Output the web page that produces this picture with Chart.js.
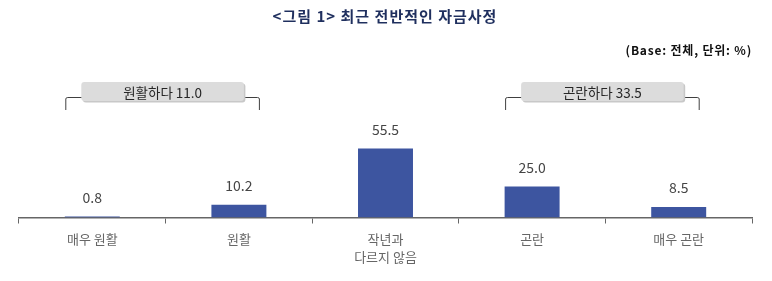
<!DOCTYPE html>
<html>
<head>
<meta charset="utf-8">
<script src="https://cdn.jsdelivr.net/npm/chart.js@4"></script>
<style>
    html, body { margin: 0; padding: 0; background: #fff; }
    #wrap { width: 772px; height: 281px; position: relative; }
</style>
</head>
<body>
<div id="wrap"><canvas id="fundChart"></canvas></div>
<script>
// chart data
const categories = [['매우 원활'], ['원활'], ['작년과', '다르지 않음'], ['곤란'], ['매우 곤란']];
const values = [0.8, 10.2, 55.5, 25.0, 8.5];
const groupLabels = ['원활하다 11.0', '곤란하다 33.5'];
const groupFrom = [0, 3];
const groupTo = [1, 4];
const titleText = '<그림 1> 최근 전반적인 자금사정';
const baseText = '(Base: 전체, 단위: %)';

const FONT = '"Noto Sans CJK KR", "Noto Sans", sans-serif';

// title, unit note, value labels and bracket groups
const extras = {
    id: 'extras',
    afterDatasetsDraw(chart) {
        const c = chart.ctx;
        const xs = chart.scales.x;
        c.save();

        c.fillStyle = '#1f2f5e';
        c.font = 'bold 15px ' + FONT;
        c.letterSpacing = '1px';
        c.textAlign = 'center';
        c.textBaseline = 'middle';
        c.fillText(titleText, 385, 16);

        c.fillStyle = '#111';
        c.font = 'bold 12px ' + FONT;
        c.letterSpacing = '0.8px';
        c.textAlign = 'right';
        c.fillText(baseText, 752, 50);
        c.letterSpacing = '0px';

        // value labels above bars
        c.fillStyle = '#454545';
        c.font = '14px ' + FONT;
        c.textAlign = 'center';
        chart.getDatasetMeta(0).data.forEach((bar, i) => {
            c.fillText(values[i].toFixed(1), bar.x, bar.y - 19);
        });

        // brackets
        groupLabels.forEach((label, i) => {
            const x1 = xs.getPixelForValue(groupFrom[i]) - 27;
            const x2 = xs.getPixelForValue(groupTo[i]) + 21;
            const top = 97, bottom = 110;
            c.strokeStyle = '#404040';
            c.lineWidth = 1;
            c.beginPath();
            c.moveTo(x1 + 0.5, bottom);
            c.lineTo(x1 + 0.5, top + 2);
            c.quadraticCurveTo(x1 + 0.5, top + 0.5, x1 + 2.5, top + 0.5);
            c.lineTo(x2 - 2.5, top + 0.5);
            c.quadraticCurveTo(x2 - 0.5, top + 0.5, x2 - 0.5, top + 2);
            c.lineTo(x2 - 0.5, bottom);
            c.stroke();

            const bx = x1 + 16, bw = x2 - x1 - 32, by = 82, bh = 19;
            c.fillStyle = '#c8c8c8';
            c.beginPath();
            c.roundRect(bx + 1.5, by + 1.5, bw, bh, 3);
            c.fill();
            c.fillStyle = '#dcdcdc';
            c.beginPath();
            c.roundRect(bx, by, bw, bh, 3);
            c.fill();

            c.fillStyle = '#262626';
            c.font = '13.5px ' + FONT;
            c.textAlign = 'center';
            c.fillText(label, bx + bw / 2, by + bh / 2 + 1);
        });
        c.restore();
    }
};

new Chart(document.getElementById('fundChart'), {
    type: 'bar',
    data: {
        labels: categories,
        datasets: [{
            data: values,
            backgroundColor: '#3d55a0',
            categoryPercentage: 1,
            barPercentage: 0.375
        }]
    },
    options: {
        responsive: true,
        maintainAspectRatio: false,
        animation: false,
        layout: { padding: { left: 19, right: 20, top: 93, bottom: 0 } },
        plugins: {
            legend: { display: false },
            tooltip: { enabled: false }
        },
        scales: {
            x: {
                grid: {
                    offset: true,
                    drawOnChartArea: false,
                    drawTicks: true,
                    tickLength: 6,
                    color: '#666'
                },
                border: { display: true, color: '#666', width: 1.5 },
                ticks: {
                    color: '#666',
                    font: { family: FONT, size: 13, lineHeight: 1.35 },
                    padding: 7,
                    maxRotation: 0
                },
                afterFit(scale) { scale.height = 63.5; }
            },
            y: {
                display: false,
                min: 0,
                max: 100
            }
        }
    },
    plugins: [extras]
});
</script>
</body>
</html>
